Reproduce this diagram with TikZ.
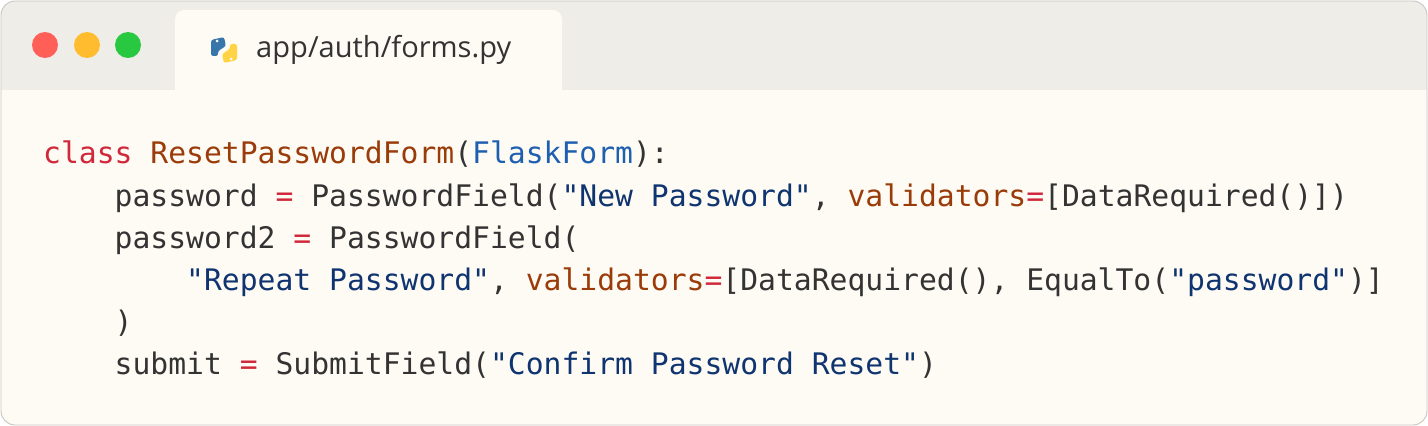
\documentclass[tikz,border=0pt]{standalone}
\usepackage{fontspec}
\setmonofont{DejaVu Sans Mono}
\setsansfont{Open Sans}
\definecolor{bar}{HTML}{EFEDE8}
\definecolor{body}{HTML}{FEFBF4}
\definecolor{frame}{HTML}{C9C6C0}
\definecolor{kw}{HTML}{D0283A}
\definecolor{cls}{HTML}{9A3C0A}
\definecolor{bl}{HTML}{1F5FB0}
\definecolor{str}{HTML}{0F3470}
\definecolor{txt}{HTML}{333333}
\begin{document}
\begin{tikzpicture}[x=0.03cm,y=-0.03cm,
  code/.style={anchor=base west,inner sep=0,font=\ttfamily\fontsize{25.34}{30}\selectfont,text=txt}]
\useasboundingbox (0,0) rectangle (1428,426);
\fill[bar,rounded corners=12] (1,1) rectangle (1427,425);
\fill[body] (1,90) rectangle (1427,413);
\fill[body,rounded corners=12] (1,380) rectangle (1427,425);
\draw[frame,line width=0.8pt,rounded corners=12] (1,1) rectangle (1427,425);
\fill[body,rounded corners=8] (175,10) rectangle (562,100);
\fill[body] (175,80) rectangle (562,91);
\fill[color={rgb,255:red,255;green,95;blue,87}] (45,45) circle (13);
\fill[color={rgb,255:red,254;green,188;blue,46}] (87,45) circle (13);
\fill[color={rgb,255:red,40;green,200;blue,64}] (128,45) circle (13);
% python icon
\fill[color={rgb,255:red,55;green,118;blue,171},rounded corners=2] (211,49) -- (211,40) -- (224,37) -- (226,46) -- (218,51) -- (218,56) -- (211,56) -- cycle;
\fill[color={rgb,255:red,255;green,211;blue,67},rounded corners=2] (237,51) -- (237,60) -- (224,63) -- (222,54) -- (230,49) -- (230,44) -- (237,44) -- cycle;
\fill[white] (217,41) circle (1.5) (231,59) circle (1.5);
\node[anchor=west,inner sep=0,font=\sffamily\fontsize{24.8}{30}\selectfont,text=txt] (title) at (256,50) {app/auth/forms.py};
\node[code] (l1) at (43,164) {\textcolor{kw}{class} \textcolor{cls}{ResetPasswordForm}(\textcolor{bl}{FlaskForm}):};
\node[code] (l2) at (43,206) {~~~~password \textcolor{kw}{=} PasswordField(\textcolor{str}{"New Password"}, \textcolor{cls}{validators}\textcolor{kw}{=}[DataRequired()])};
\node[code] (l3) at (43,248) {~~~~password2 \textcolor{kw}{=} PasswordField(};
\node[code] (l4) at (43,290) {~~~~~~~~\textcolor{str}{"Repeat Password"}, \textcolor{cls}{validators}\textcolor{kw}{=}[DataRequired(), EqualTo(\textcolor{str}{"password"})]};
\node[code] (l5) at (43,332) {~~~~)};
\node[code] (l6) at (43,374) {~~~~submit \textcolor{kw}{=} SubmitField(\textcolor{str}{"Confirm Password Reset"})};
\end{tikzpicture}
\end{document}
